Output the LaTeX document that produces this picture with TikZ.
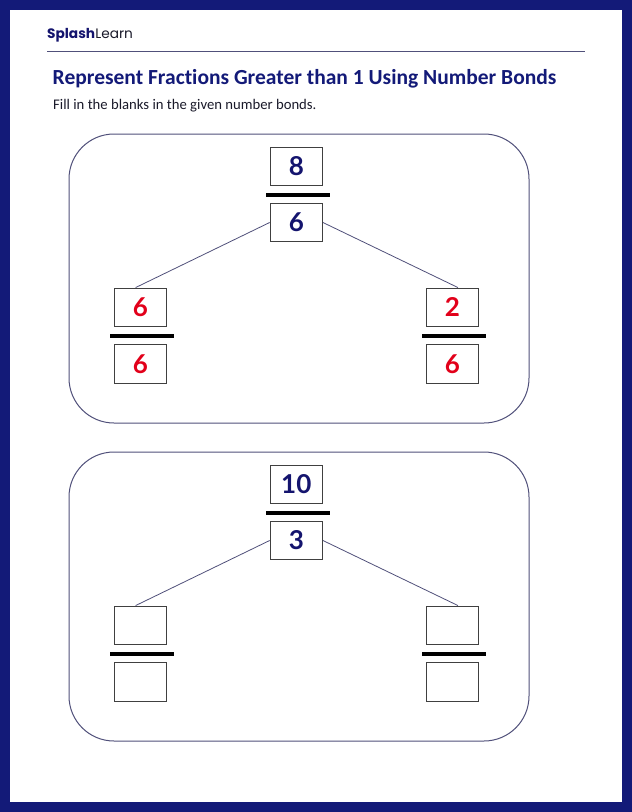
\documentclass[tikz,border=0pt]{standalone}
\usepackage{fontspec}
\setmainfont{Lato}
\newfontfamily\logofont{Poppins}
\newfontfamily\headfont[Ligatures=CommonOff]{Carlito}
\definecolor{navy}{HTML}{131A78}
\definecolor{numblue}{HTML}{14146E}
\definecolor{numred}{HTML}{E2001A}
\definecolor{linec}{HTML}{50507A}
\definecolor{inkc}{HTML}{1A1A2A}
\tikzset{
  numbox/.style={draw=black!75,line width=0.8pt,minimum width=52.5pt,minimum height=38.5pt,inner sep=0pt,font=\fontsize{26}{26}\selectfont\bfseries,text=numblue},
  ansbox/.style={numbox,text=numred},
  fracbar/.style={line width=4pt,black},
  bondframe/.style={draw=linec,line width=1pt,rounded corners=45pt,minimum width=460pt,minimum height=289pt,inner sep=0pt},
  bondline/.style={draw=linec,line width=0.8pt},
}
\begin{document}
\begin{tikzpicture}[x=1pt,y=-1pt]
\useasboundingbox (0,0) rectangle (632,812);
\fill[navy] (0,0) rectangle (632,812);
\fill[white] (10,10) rectangle (622,802);
% header
\node[anchor=west,inner sep=0pt,text=numblue] (logo) at (47,35) {\logofont\fontsize{13.7}{14}\selectfont\textbf{Splash}\hspace{0.3pt}{\color{inkc}Learn}};
\coordinate (ruleL) at (47,51.5);
\coordinate (ruleR) at (585,51.5);
\draw[linec,line width=0.9pt] (ruleL) -- (ruleR);
\node[anchor=west,inner sep=0pt,text=navy] (title) at (52.5,78.5) {\headfont\fontsize{21.5}{24}\selectfont\bfseries Represent Fractions Greater than 1 Using Number Bonds};
\node[anchor=west,inner sep=0pt,text=inkc] (sub) at (53,105.5) {\headfont\fontsize{14.7}{17}\selectfont Fill in the blanks in the given number bonds.};
% first bond
\node[bondframe] (f1) at (299,278.5) {};
\node[numbox] (a1) at (296.3,166.2) {8};
\node[numbox] (a2) at (296.3,222.5) {6};
\draw[fracbar] (266,195) -- (330,195);
\node[ansbox] (b1) at (140.3,307.2) {6};
\node[ansbox] (b2) at (140.3,363.7) {6};
\draw[fracbar] (110,336.3) -- (174,336.3);
\node[ansbox] (c1) at (452.3,307.2) {2};
\node[ansbox] (c2) at (452.3,363.7) {6};
\draw[fracbar] (422,336.3) -- (486,336.3);
\draw[bondline] (a2.west) -- ([xshift=22pt]b1.north west);
\draw[bondline] (a2.east) -- ([xshift=-21pt]c1.north east);
% second bond
\node[bondframe] (f2) at (299,596.5) {};
\node[numbox] (d1) at (296.3,484.2) {10};
\node[numbox] (d2) at (296.3,540.5) {3};
\draw[fracbar] (266,513) -- (330,513);
\node[ansbox] (e1) at (140.3,625.2) {};
\node[ansbox] (e2) at (140.3,681.7) {};
\draw[fracbar] (110,654.3) -- (174,654.3);
\node[ansbox] (g1) at (452.3,625.2) {};
\node[ansbox] (g2) at (452.3,681.7) {};
\draw[fracbar] (422,654.3) -- (486,654.3);
\draw[bondline] (d2.west) -- ([xshift=22pt]e1.north west);
\draw[bondline] (d2.east) -- ([xshift=-21pt]g1.north east);
\end{tikzpicture}
\end{document}
